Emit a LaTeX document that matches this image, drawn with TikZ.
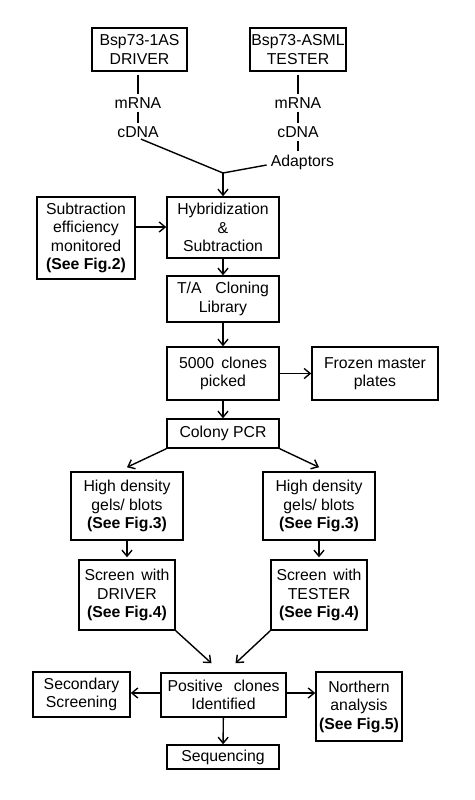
\documentclass[tikz,border=0pt]{standalone}
\usepackage{fontspec}
\setmainfont{Liberation Sans}
\usetikzlibrary{arrows.meta}
\newcommand{\fs}{\fontsize{15.8}{18.5}\selectfont}
\newcommand{\jb}[2]{\makebox[#1][s]{#2}}
\tikzset{
  box/.style={draw, line width=1.5pt, align=center, inner sep=1pt, font=\fs},
  lbl/.style={inner sep=1pt, font=\fs},
  arr/.style={-{Straight Barb[length=6pt,width=10pt]}, line width=1.4pt},
  ln/.style={line width=1.4pt},
  gap/.style={shorten <=2pt, shorten >=2pt}
}
\begin{document}
\begin{tikzpicture}[x=1pt,y=-1pt]
\useasboundingbox[fill=white] (0,0) rectangle (474,800);
% top boxes
\node[box, minimum width=95pt, minimum height=43pt] (drv) at (139.5,49.5) {Bsp73-1AS\\DRIVER};
\node[box, minimum width=96pt, minimum height=43pt] (tst) at (298,49.5) {Bsp73-ASML\\TESTER};
\node[lbl] (mrna1) at (138,103) {mRNA};
\node[lbl] (cdna1) at (138,132) {cDNA};
\node[lbl] (mrna2) at (298,103) {mRNA};
\node[lbl] (cdna2) at (298,132) {cDNA};
\node[lbl] (adapt) at (302.5,162) {Adaptors};
\coordinate (j) at (223,173);
% main column
\node[box, minimum width=112pt, minimum height=61pt] (hyb) at (223,227.5) {Hybridization\\\&\\Subtraction};
\node[box, minimum width=98pt, minimum height=82pt] (sub) at (86,238) {Subtraction\\efficiency\\monitored\\\textbf{(See Fig.2)}};
\node[box, minimum width=112pt, minimum height=46pt] (ta) at (223,299) {\jb{92pt}{T/A Cloning}\\Library};
\node[box, minimum width=112pt, minimum height=53pt] (clones) at (223,373.5) {\jb{88pt}{5000 clones}\\picked};
\node[box, minimum width=126pt, minimum height=53pt] (frozen) at (375,373.5) {\jb{102pt}{Frozen master}\\plates};
\node[box, minimum width=112pt, minimum height=29pt] (pcr) at (223,433.5) {Colony PCR};
\node[box, minimum width=112pt, minimum height=68pt] (hd1) at (127,506) {High density\\gels/ blots\\\textbf{(See Fig.3)}};
\node[box, minimum width=112pt, minimum height=68pt] (hd2) at (319,506) {High density\\gels/ blots\\\textbf{(See Fig.3)}};
\node[box, minimum width=96pt, minimum height=70pt] (scr1) at (127,595) {\jb{85pt}{Screen with}\\DRIVER\\\textbf{(See Fig.4)}};
\node[box, minimum width=96pt, minimum height=70pt] (scr2) at (319,595) {\jb{85pt}{Screen with}\\TESTER\\\textbf{(See Fig.4)}};
\node[box, minimum width=125pt, minimum height=44pt] (pos) at (223.5,695) {\jb{112pt}{Positive clones}\\Identified};
\node[box, minimum width=97pt, minimum height=45pt] (sec) at (81.5,694.5) {Secondary\\Screening};
\node[box, minimum width=86pt, minimum height=69pt] (north) at (359,706.5) {Northern\\analysis\\\textbf{(See Fig.5)}};
\node[box, minimum width=112pt, minimum height=24pt] (seq) at (223,757) {Sequencing};
% connectors
\draw[ln, shorten <=3pt, shorten >=2pt] (drv.south -| mrna1.north) -- (mrna1.north);
\draw[ln, gap] (mrna1.south) -- (cdna1.north);
\draw[ln, shorten <=3pt, shorten >=2pt] (tst.south -| mrna2.north) -- (mrna2.north);
\draw[ln, gap] (mrna2.south) -- (cdna2.north);
\draw[ln, gap] (cdna2.south) -- (adapt.north -| cdna2.south);
\draw[ln, shorten <=1pt] ([xshift=2pt]cdna1.south) -- (j);
\draw[ln] ([xshift=-3pt,yshift=-3pt]adapt.west) -- (j);
\draw[arr] (j) -- (hyb.north);
\draw[arr] (sub.east |- 0,227) -- (hyb.west |- 0,227);
\draw[arr] (hyb) -- (ta);
\draw[arr] (ta) -- (clones);
\draw[arr] (clones) -- (frozen);
\draw[arr] (clones) -- (pcr);
\draw[arr] (pcr.south west) -- ([yshift=4pt]hd1.north);
\draw[arr] (pcr.south east) -- ([yshift=4pt]hd2.north);
\draw[arr] (hd1) -- ([yshift=2pt]scr1.north);
\draw[arr] (hd2) -- ([yshift=2pt]scr2.north);
\draw[arr] (scr1.south east) -- ([xshift=-12pt,yshift=9pt]pos.north);
\draw[arr] (scr2.south west) -- ([xshift=12pt,yshift=9pt]pos.north);
\draw[arr] (pos.west |- 0,693) -- (sec.east |- 0,693);
\draw[arr] (pos.east |- 0,693) -- (north.west |- 0,693);
\draw[arr] (pos) -- (seq);
\end{tikzpicture}
\end{document}
